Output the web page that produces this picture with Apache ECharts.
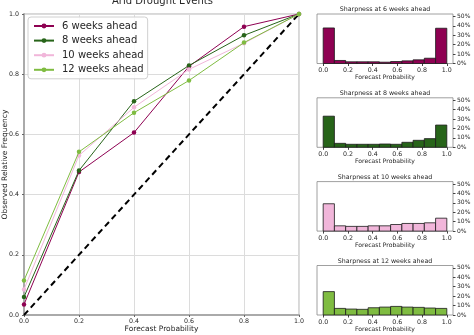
<!DOCTYPE html>
<html><head><meta charset="utf-8">
<script src="https://cdn.jsdelivr.net/npm/echarts@6/dist/echarts.min.js"></script>
<style>html,body{margin:0;padding:0;background:#fff}#c{width:474px;height:335px}</style>
</head><body><div id="c"></div>
<script>
// ---- data ----
const forecastProb = [0, 0.2, 0.4, 0.6, 0.8, 1.0];
const obs6 = [0.035, 0.475, 0.606, 0.826, 0.958, 1.0];
const obs8 = [0.06, 0.48, 0.71, 0.829, 0.929, 1.0];
const obs10 = [0.085, 0.53, 0.69, 0.816, 0.903, 1.0];
const obs12 = [0.115, 0.542, 0.672, 0.779, 0.905, 1.0];
const seriesNames = ['6 weeks ahead', '8 weeks ahead', '10 weeks ahead', '12 weeks ahead'];
const perfectLine = [0, 1];
const sharp6 = [37.7, 3.2, 1.8, 1.8, 1.8, 1.4, 2.1, 2.8, 3.9, 5.6, 37.4];
const sharp8 = [33.0, 4.2, 3.2, 3.2, 3.2, 3.5, 3.2, 5.3, 7.4, 9.2, 23.6];
const sharp10 = [29.0, 5.6, 5.0, 5.0, 5.6, 5.6, 7.0, 8.1, 8.1, 8.8, 13.7];
const sharp12 = [24.8, 7.0, 6.3, 6.0, 7.7, 8.4, 9.1, 8.4, 8.1, 7.4, 7.0];
const sharpTitles = ['Sharpness at 6 weeks ahead', 'Sharpness at 8 weeks ahead', 'Sharpness at 10 weeks ahead', 'Sharpness at 12 weeks ahead'];
const probTicks = [0, 0.2, 0.4, 0.6, 0.8, 1.0];
const pctTicks = [0, 10, 20, 30, 40, 50];

const colors = ['#8e0152', '#276419', '#f1b6da', '#7fbc41'];
const FONT = 'DejaVu Sans';
const TXT = '#262626';
const obsAll = [obs6, obs8, obs10, obs12];
const sharpAll = [sharp6, sharp8, sharp10, sharp12];
const nBins = sharp6.length;

const chart = echarts.init(document.getElementById('c'), null, {renderer: 'canvas'});

const grids = [{left: 24, right: 175, top: 14, bottom: 20, show: true, borderColor: '#b0b0b0', borderWidth: 1, outerBoundsMode: 'none', containLabel: false}];
const histTops = [14, 97.8, 181.6, 265.5];
const histH = 49.5;
histTops.forEach(t => grids.push({left: 317, right: 21, top: t, height: histH, show: true, borderColor: '#888', borderWidth: 0.8, outerBoundsMode: 'none', containLabel: false}));

const xAxes = [{
  gridIndex: 0, type: 'value', min: 0, max: 1, interval: 0.2,
  name: 'Forecast Probability', nameLocation: 'middle', nameGap: 10, nameMoveOverlap: false,
  nameTextStyle: {fontFamily: FONT, fontSize: 7.5, color: TXT},
  axisLine: {show: true, onZero: false, lineStyle: {color: '#aaa', width: 2}},
  axisTick: {show: true, length: 2, lineStyle: {color: '#666'}},
  axisLabel: {fontFamily: FONT, fontSize: 6.3, color: TXT, margin: 3, hideOverlap: false, formatter: v => v.toFixed(1)},
  splitLine: {show: true, lineStyle: {color: '#dcdcdc', width: 1}}
}];
const yAxes = [{
  gridIndex: 0, type: 'value', min: 0, max: 1, interval: 0.2,
  name: 'Observed Relative Frequency', nameLocation: 'middle', nameGap: 15, nameRotate: 90, nameMoveOverlap: false,
  nameTextStyle: {fontFamily: FONT, fontSize: 7.5, color: TXT},
  axisLine: {show: true, onZero: false, lineStyle: {color: '#aaa', width: 2}},
  axisTick: {show: true, length: 2, lineStyle: {color: '#666'}},
  axisLabel: {fontFamily: FONT, fontSize: 6.3, color: TXT, margin: 5, hideOverlap: false, showMaxLabel: true, formatter: v => v.toFixed(1)},
  splitLine: {show: true, lineStyle: {color: '#dcdcdc', width: 1}}
}];
histTops.forEach((t, k) => {
  xAxes.push({
    gridIndex: k + 1, type: 'value', min: -0.05, max: 1.05,
    name: 'Forecast Probability', nameLocation: 'middle', nameGap: 11, nameMoveOverlap: false,
    nameTextStyle: {fontFamily: FONT, fontSize: 6.1, color: TXT},
    axisLine: {show: false, onZero: false},
    axisTick: {show: true, length: 2.5, customValues: probTicks, lineStyle: {color: '#444'}},
    axisLabel: {fontFamily: FONT, fontSize: 6.3, color: TXT, margin: 4, customValues: probTicks, formatter: v => v.toFixed(1)},
    splitLine: {show: false}
  });
  yAxes.push({
    gridIndex: k + 1, type: 'value', min: 0, max: 52.5, interval: 10, position: 'right', name: '',
    axisLine: {show: false, onZero: false},
    axisTick: {show: true, length: 2.5, customValues: pctTicks, lineStyle: {color: '#444'}},
    axisLabel: {fontFamily: FONT, fontSize: 6, color: TXT, margin: 4, customValues: pctTicks,
      formatter: v => (Math.abs(v % 10) < 1e-6 && v <= 50) ? v + '%' : ''},
    splitLine: {show: false}
  });
});

const series = [{
  type: 'line', xAxisIndex: 0, yAxisIndex: 0, name: 'perfect',
  data: perfectLine.map(v => [v, v]), symbol: 'none', silent: true,
  lineStyle: {color: '#000', width: 2, type: [6, 4]}, z: 1
}];
obsAll.forEach((arr, i) => {
  series.push({
    type: 'line', name: seriesNames[i], xAxisIndex: 0, yAxisIndex: 0,
    data: forecastProb.map((x, j) => [x, arr[j]]),
    symbol: 'circle', symbolSize: 4.5, showSymbol: true, clip: false,
    itemStyle: {color: colors[i]}, lineStyle: {color: colors[i], width: 1}, z: 3 + i
  });
});
sharpAll.forEach((arr, k) => {
  const col = colors[k];
  series.push({
    type: 'custom', xAxisIndex: k + 1, yAxisIndex: k + 1,
    data: arr.map((v, i) => [(i + 0.5) / nBins, v]),
    encode: {x: 0, y: 1},
    renderItem: (params, api) => {
      const c = api.value(0), v = api.value(1);
      const half = 0.5 / nBins;
      const p0 = api.coord([c - half, v]);
      const p1 = api.coord([c + half, 0]);
      return {type: 'rect', shape: {x: p0[0], y: p0[1], width: p1[0] - p0[0], height: p1[1] - p0[1]},
        style: {fill: col, stroke: '#1a1a1a', lineWidth: 0.8}};
    }
  });
});

const graphics = sharpTitles.map((t, k) => ({
  type: 'text', x: 385, y: histTops[k] - 4.5,
  style: {text: t, fontFamily: FONT, fontSize: 6.3, fill: TXT, align: 'center', verticalAlign: 'middle'}
}));

chart.setOption({
  animation: false,
  backgroundColor: '#fff',
  title: {text: 'Arid Drought Events', left: 112, top: -4, padding: 0,
    textStyle: {fontFamily: FONT, fontSize: 10, fontWeight: 'normal', color: TXT}},
  legend: {
    data: seriesNames, orient: 'vertical', left: 28, top: 17,
    padding: [4, 4, 4, 5], itemGap: 4.6, itemWidth: 20, itemHeight: 6,
    backgroundColor: 'rgba(255,255,255,0.85)', borderColor: '#d0d0d0', borderWidth: 1, borderRadius: 3,
    textStyle: {fontFamily: FONT, fontSize: 10, color: TXT, lineHeight: 10, padding: [0, 0, 0, 3]}
  },
  grid: grids, xAxis: xAxes, yAxis: yAxes, series: series, graphic: graphics
});
</script></body></html>
